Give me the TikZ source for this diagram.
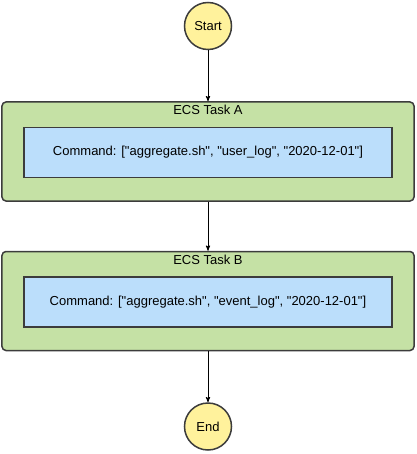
\documentclass[tikz,border=0pt]{standalone}
\usepackage{fontspec}
\setmainfont{Liberation Sans}
\usetikzlibrary{arrows,positioning}
\definecolor{edgegray}{HTML}{3C3C3C}
\definecolor{termfill}{HTML}{FFF29C}
\definecolor{taskfill}{HTML}{C5E1A5}
\definecolor{cmdfill}{HTML}{BBDEFB}
\newcommand{\qd}{\textquotedbl}
\tikzset{
    %Define standard arrow tip
    >=stealth',
    %Define style for start and end
    terminal/.style={
           circle,
           draw=edgegray, line width=1.5pt,
           minimum size=47pt,
           inner sep=0pt,
           font=\fontsize{13pt}{15pt}\selectfont,
           fill=termfill},
    %Define style for the task boxes
    task/.style={
           rectangle,
           rounded corners=4pt,
           draw=edgegray, line width=1.5pt,
           minimum width=412pt,
           minimum height=99pt,
           fill=taskfill},
    command/.style={
           rectangle,
           draw=edgegray, line width=1.5pt,
           minimum width=368pt,
           minimum height=50pt,
           font=\fontsize{13pt}{15pt}\selectfont,
           fill=cmdfill},
    tasktitle/.style={
           font=\fontsize{13pt}{15pt}\selectfont,
           inner sep=0pt},
    % Define arrow style
    flow/.style={
           ->,
           line width=0.9pt}
}
\begin{document}
\begin{tikzpicture}[node distance=51pt]
\useasboundingbox (-208pt,26pt) rectangle (208pt,-428pt);
 %nodes
\node[terminal](start){Start};
\node[task, below=of start](taskA){};
\node[tasktitle] (titleA) at ([yshift=-9pt]taskA.north) {ECS Task A};
\node[command] (cmdA) at ([yshift=-1pt]taskA.center) {Command: [\qd aggregate.sh\qd, \qd user\_log\qd, \qd 2020-12-01\qd]};
\node[task, below=49pt of taskA](taskB){};
\node[tasktitle] (titleB) at ([yshift=-9pt]taskB.north) {ECS Task B};
\node[command] (cmdB) at ([yshift=-1pt]taskB.center) {Command: [\qd aggregate.sh\qd, \qd event\_log\qd, \qd 2020-12-01\qd]};
\node[terminal, below=of taskB](end){End};
 %edges
\draw[flow] (start) -- (taskA);
\draw[flow] (taskA) -- (taskB);
\draw[flow] (taskB) -- (end);
\end{tikzpicture}
\end{document}
